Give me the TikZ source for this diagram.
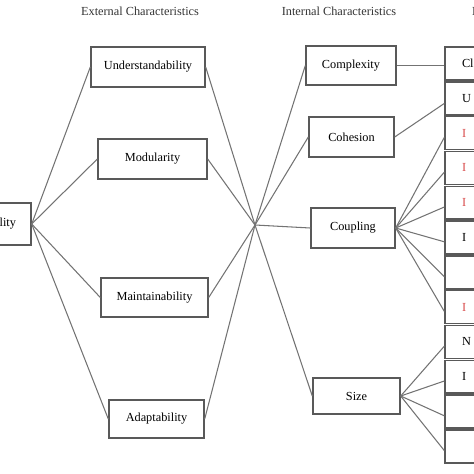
\documentclass[tikz,border=0pt]{standalone}
\usepackage{fontspec}
\setmainfont{Liberation Serif}
\usepackage{tikz}
\usepackage{xcolor}
\usetikzlibrary{calc}

\definecolor{linegray}{gray}{0.45}
\definecolor{boxgray}{gray}{0.35}
\definecolor{metricred}{rgb}{0.85,0.3,0.3}

\begin{document}
\begin{tikzpicture}[x=0.02cm, y=-0.02cm,
  box/.style={draw=boxgray, line width=0.8pt, fill=white, inner sep=0pt,
    font=\fontsize{7}{8}\selectfont},
  metric/.style={box, minimum height=0.66cm, text width=1.22cm,
    inner xsep=0.34cm, align=left},
  link/.style={draw=linegray, line width=0.6pt},
  head/.style={font=\fontsize{7}{8}\selectfont, text=black!80}]
\useasboundingbox (0,0) rectangle (474,474);
\clip (0,0) rectangle (474,474);

% column headings
\node[head] (hext) at (140,11) {External Characteristics};
\node[head] (hint) at (339,11) {Internal Characteristics};
\node[head, anchor=west] (hmet) at (466,11) {Metrics};

% goal
\node[box, minimum width=1.72cm, minimum height=0.84cm] (reuse) at (-12,224) {Reusability};

% external characteristics
\node[box, minimum width=2.28cm, minimum height=0.8cm] (und) at (148,67) {Understandability};
\node[box, minimum width=2.18cm, minimum height=0.8cm] (mod) at (152.5,159) {Modularity};
\node[box, minimum width=2.14cm, minimum height=0.78cm] (main) at (154.5,297.5) {Maintainability};
\node[box, minimum width=1.9cm, minimum height=0.76cm] (adap) at (156.5,419) {Adaptability};

% internal characteristics
\node[box, minimum width=1.8cm, minimum height=0.78cm] (cplx) at (351,65.5) {Complexity};
\node[box, minimum width=1.7cm, minimum height=0.8cm] (coh) at (351.5,137) {Cohesion};
\node[box, minimum width=1.68cm, minimum height=0.8cm] (coup) at (353,228) {Coupling};
\node[box, minimum width=1.74cm, minimum height=0.72cm] (size) at (356.5,396) {Size};

% metrics
\foreach \i/\txt/\col in {1/Cl/black, 2/U/black, 3/I/metricred, 4/I/metricred,
    5/I/metricred, 6/I/black, 7/{}/black, 8/I/metricred, 9/N/black,
    10/I/black, 11/{}/black, 12/{}/black}
  \node[metric, text=\col] (m\i) at (492.5,{63.5+34.8*(\i-1)}) {\txt};

% links
\coordinate (hub) at (255,225);
\foreach \n in {und,mod,main,adap} {
  \draw[link] (reuse.east) -- (\n.west);
  \draw[link] (\n.east) -- (hub);
}
\foreach \n in {cplx,coh,coup,size}
  \draw[link] (hub) -- (\n.west);

\draw[link] (cplx.east) -- (cplx.east -| m1.west);
\draw[link] (coh.east) -- ($(m2.west)!0.3!(m2.south west)$);
\foreach \i in {3,...,8}
  \draw[link] (coup.east) -- ($(m\i.west)!0.25!(m\i.south west)$);
\foreach \i in {9,...,12}
  \draw[link] (size.east) -- ($(m\i.west)!0.25!(m\i.south west)$);
\end{tikzpicture}
\end{document}
